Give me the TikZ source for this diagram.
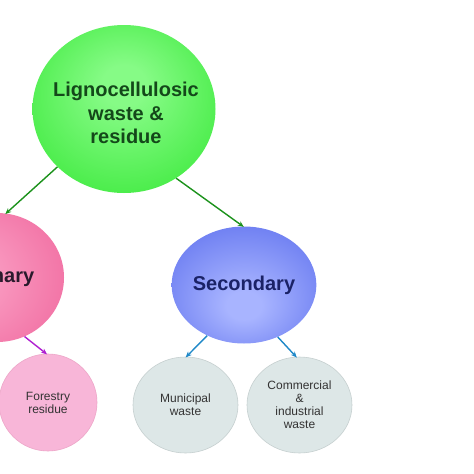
\documentclass[tikz,border=0pt]{standalone}
\usepackage{fontspec}
\setmainfont{Liberation Sans}
\usetikzlibrary{shapes.geometric,arrows.meta}
\definecolor{gEdge}{HTML}{2AD42A}
\definecolor{gMid}{HTML}{48EC48}
\definecolor{gLight}{HTML}{86FB86}
\definecolor{pEdge}{HTML}{E85290}
\definecolor{pMid}{HTML}{F274A6}
\definecolor{pLight}{HTML}{FBA2C6}
\definecolor{bEdge}{HTML}{4E5EE6}
\definecolor{bMid}{HTML}{6F80F2}
\definecolor{bLight}{HTML}{A8B4FF}
\definecolor{fFill}{HTML}{F8B6D8}
\definecolor{fLine}{HTML}{EDA6C8}
\definecolor{gyFill}{HTML}{DDE7E7}
\definecolor{gyLine}{HTML}{C6D0D0}
\definecolor{gText}{HTML}{14481A}
\definecolor{pText}{HTML}{2A1A2C}
\definecolor{bText}{HTML}{1A2266}
\definecolor{gArrow}{HTML}{1C921C}
\definecolor{mArrow}{HTML}{B020D0}
\definecolor{bArrow}{HTML}{1E88C8}
\pgfdeclareradialshading{greenshade}{\pgfpoint{0bp}{8bp}}{color(0bp)=(gLight); color(6bp)=(gLight); color(30bp)=(gMid); color(45bp)=(gMid); color(50bp)=(gEdge)}
\pgfdeclareradialshading{pinkshade}{\pgfpoint{-16bp}{0bp}}{color(0bp)=(pLight); color(6bp)=(pLight); color(32bp)=(pMid); color(45bp)=(pMid); color(50bp)=(pEdge)}
\pgfdeclareradialshading{blueshade}{\pgfpoint{0bp}{-10bp}}{color(0bp)=(bLight); color(6bp)=(bLight); color(30bp)=(bMid); color(45bp)=(bMid); color(50bp)=(bEdge)}
\tikzset{
  bigbubble/.style={ellipse, inner sep=0pt, font=\fontsize{20}{23.5}\selectfont\bfseries, align=center},
  smallbubble/.style={ellipse, inner sep=0pt, font=\fontsize{12}{13}\selectfont, align=center, text=black!80, line width=0.6pt},
  link/.style={line width=1.4pt, -{Stealth[length=6pt,width=5pt]}, shorten >=-1pt}
}
\begin{document}
\begin{tikzpicture}[x=1pt,y=-1pt]
\useasboundingbox (0,0) rectangle (474,474);
\clip (0,0) rectangle (474,474);
\fill[white] (0,0) rectangle (474,474);
\node[bigbubble, shading=greenshade, minimum width=183pt, minimum height=168pt, text=gText] (root) at (124,109) {};
\node[font=\fontsize{20}{23.5}\selectfont\bfseries, align=center, text=gText] (roottext) at (126,113) {Lignocellulosic\\waste \&\\residue};
\node[bigbubble, shading=pinkshade, minimum width=134pt, minimum height=129pt, text=pText] (primary) at (-3,277.5) {Primary};
\node[bigbubble, shading=blueshade, minimum width=132pt, minimum height=117pt, text=bText] (secondary) at (244,285) {Secondary};
\node[smallbubble, fill=fFill, draw=fLine, minimum width=98pt, minimum height=97pt] (forestry) at (48,402.5) {Forestry\\residue};
\node[smallbubble, fill=gyFill, draw=gyLine, minimum width=105pt, minimum height=96pt] (municipal) at (185.5,405) {Municipal\\waste};
\node[smallbubble, fill=gyFill, draw=gyLine, minimum width=105pt, minimum height=96pt] (commercial) at (299.5,405) {Commercial\\\&\\industrial\\waste};
\draw[link, gArrow] (root.221) -- (primary.82);
\draw[link, gArrow] (root.307) -- (secondary.91);
\draw[link, mArrow] (primary.295) -- (forestry.92);
\draw[link, bArrow] (secondary.234) -- (municipal.89);
\draw[link, bArrow] (secondary.303) -- (commercial.94);
\end{tikzpicture}
\end{document}
